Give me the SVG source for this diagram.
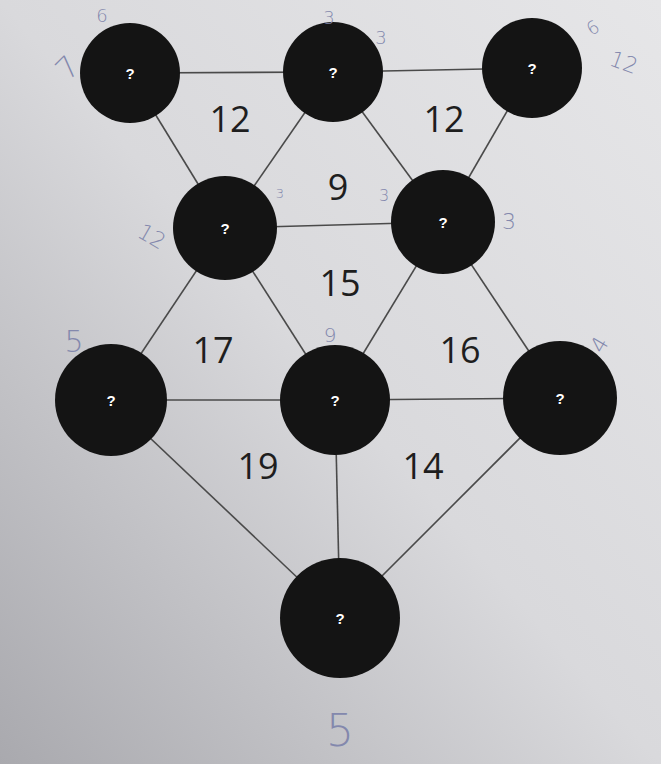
<svg xmlns="http://www.w3.org/2000/svg" width="661" height="764" viewBox="0 0 661 764">
<defs>
<linearGradient id="bg" x1="1" y1="0" x2="0" y2="1">
<stop offset="0" stop-color="#e6e6e8"/>
<stop offset="0.5" stop-color="#d9d9dc"/>
<stop offset="1" stop-color="#a9a9ae"/>
</linearGradient>
<style>
.edge{stroke:#4a4a4a;stroke-width:1.6;fill:none}
.node circle{fill:#141414}
.q{fill:#ffffff;font-family:"Liberation Sans",sans-serif;font-size:15px;font-weight:bold;text-anchor:middle}
.num{fill:#1e1e1e;font-family:"Open Sans","Liberation Sans",sans-serif;font-size:36px;text-anchor:middle}
.hw{fill:#8388ad;font-family:"DejaVu Sans",sans-serif;font-weight:200;text-anchor:middle}
</style>
</defs>
<rect width="661" height="764" fill="url(#bg)"/>
<g id="connectors">
<line class="edge" x1="130" y1="73" x2="333" y2="72"/>
<line class="edge" x1="333" y1="72" x2="532" y2="68"/>
<line class="edge" x1="130" y1="73" x2="225" y2="228"/>
<line class="edge" x1="333" y1="72" x2="225" y2="228"/>
<line class="edge" x1="333" y1="72" x2="443" y2="222"/>
<line class="edge" x1="532" y1="68" x2="443" y2="222"/>
<line class="edge" x1="225" y1="228" x2="443" y2="222"/>
<line class="edge" x1="225" y1="228" x2="110" y2="400"/>
<line class="edge" x1="225" y1="228" x2="335" y2="400"/>
<line class="edge" x1="443" y1="222" x2="335" y2="400"/>
<line class="edge" x1="443" y1="222" x2="560" y2="398"/>
<line class="edge" x1="110" y1="400" x2="335" y2="400"/>
<line class="edge" x1="335" y1="400" x2="560" y2="398"/>
<line class="edge" x1="110" y1="400" x2="340" y2="618"/>
<line class="edge" x1="335" y1="400" x2="340" y2="618"/>
<line class="edge" x1="560" y1="398" x2="340" y2="618"/>
</g>
<g id="n1" class="node"><circle cx="130" cy="73" r="50"/><text class="q" x="130" y="79">?</text></g>
<g id="n2" class="node"><circle cx="333" cy="72" r="50"/><text class="q" x="333" y="78">?</text></g>
<g id="n3" class="node"><circle cx="532" cy="68" r="50"/><text class="q" x="532" y="74">?</text></g>
<g id="n4" class="node"><circle cx="225" cy="228" r="52"/><text class="q" x="225" y="234">?</text></g>
<g id="n5" class="node"><circle cx="443" cy="222" r="52"/><text class="q" x="443" y="228">?</text></g>
<g id="n6" class="node"><circle cx="111" cy="400" r="56"/><text class="q" x="111" y="406">?</text></g>
<g id="n7" class="node"><circle cx="335" cy="400" r="55"/><text class="q" x="335" y="406">?</text></g>
<g id="n8" class="node"><circle cx="560" cy="398" r="57"/><text class="q" x="560" y="404">?</text></g>
<g id="n9" class="node"><circle cx="340" cy="618" r="60"/><text class="q" x="340" y="624">?</text></g>
<g id="labels">
<text class="num" x="230" y="132">12</text>
<text class="num" x="444" y="132">12</text>
<text class="num" x="338" y="200">9</text>
<text class="num" x="340" y="296">15</text>
<text class="num" x="213" y="363">17</text>
<text class="num" x="460" y="363">16</text>
<text class="num" x="258" y="479">19</text>
<text class="num" x="423" y="479">14</text>
</g>
<g id="handwriting">
<text class="hw" x="102" y="22" font-size="18">6</text>
<text class="hw" x="68" y="78" font-size="30" transform="rotate(-45 68 68)">7</text>
<text class="hw" x="329" y="24" font-size="18">3</text>
<text class="hw" x="381" y="44" font-size="18">3</text>
<text class="hw" x="593" y="34" font-size="18" transform="rotate(-30 593 28)">6</text>
<text class="hw" x="624" y="70" font-size="22" transform="rotate(20 624 62)">12</text>
<text class="hw" x="152" y="244" font-size="22" transform="rotate(30 152 236)">12</text>
<text class="hw" x="280" y="198" font-size="13">3</text>
<text class="hw" x="384" y="201" font-size="16">3</text>
<text class="hw" x="509" y="229" font-size="22">3</text>
<text class="hw" x="74" y="352" font-size="30">5</text>
<text class="hw" x="330" y="342" font-size="20">9</text>
<text class="hw" x="600" y="352" font-size="22" transform="rotate(-60 600 345)">4</text>
<text class="hw" x="340" y="746" font-size="44">5</text>
</g>
</svg>
